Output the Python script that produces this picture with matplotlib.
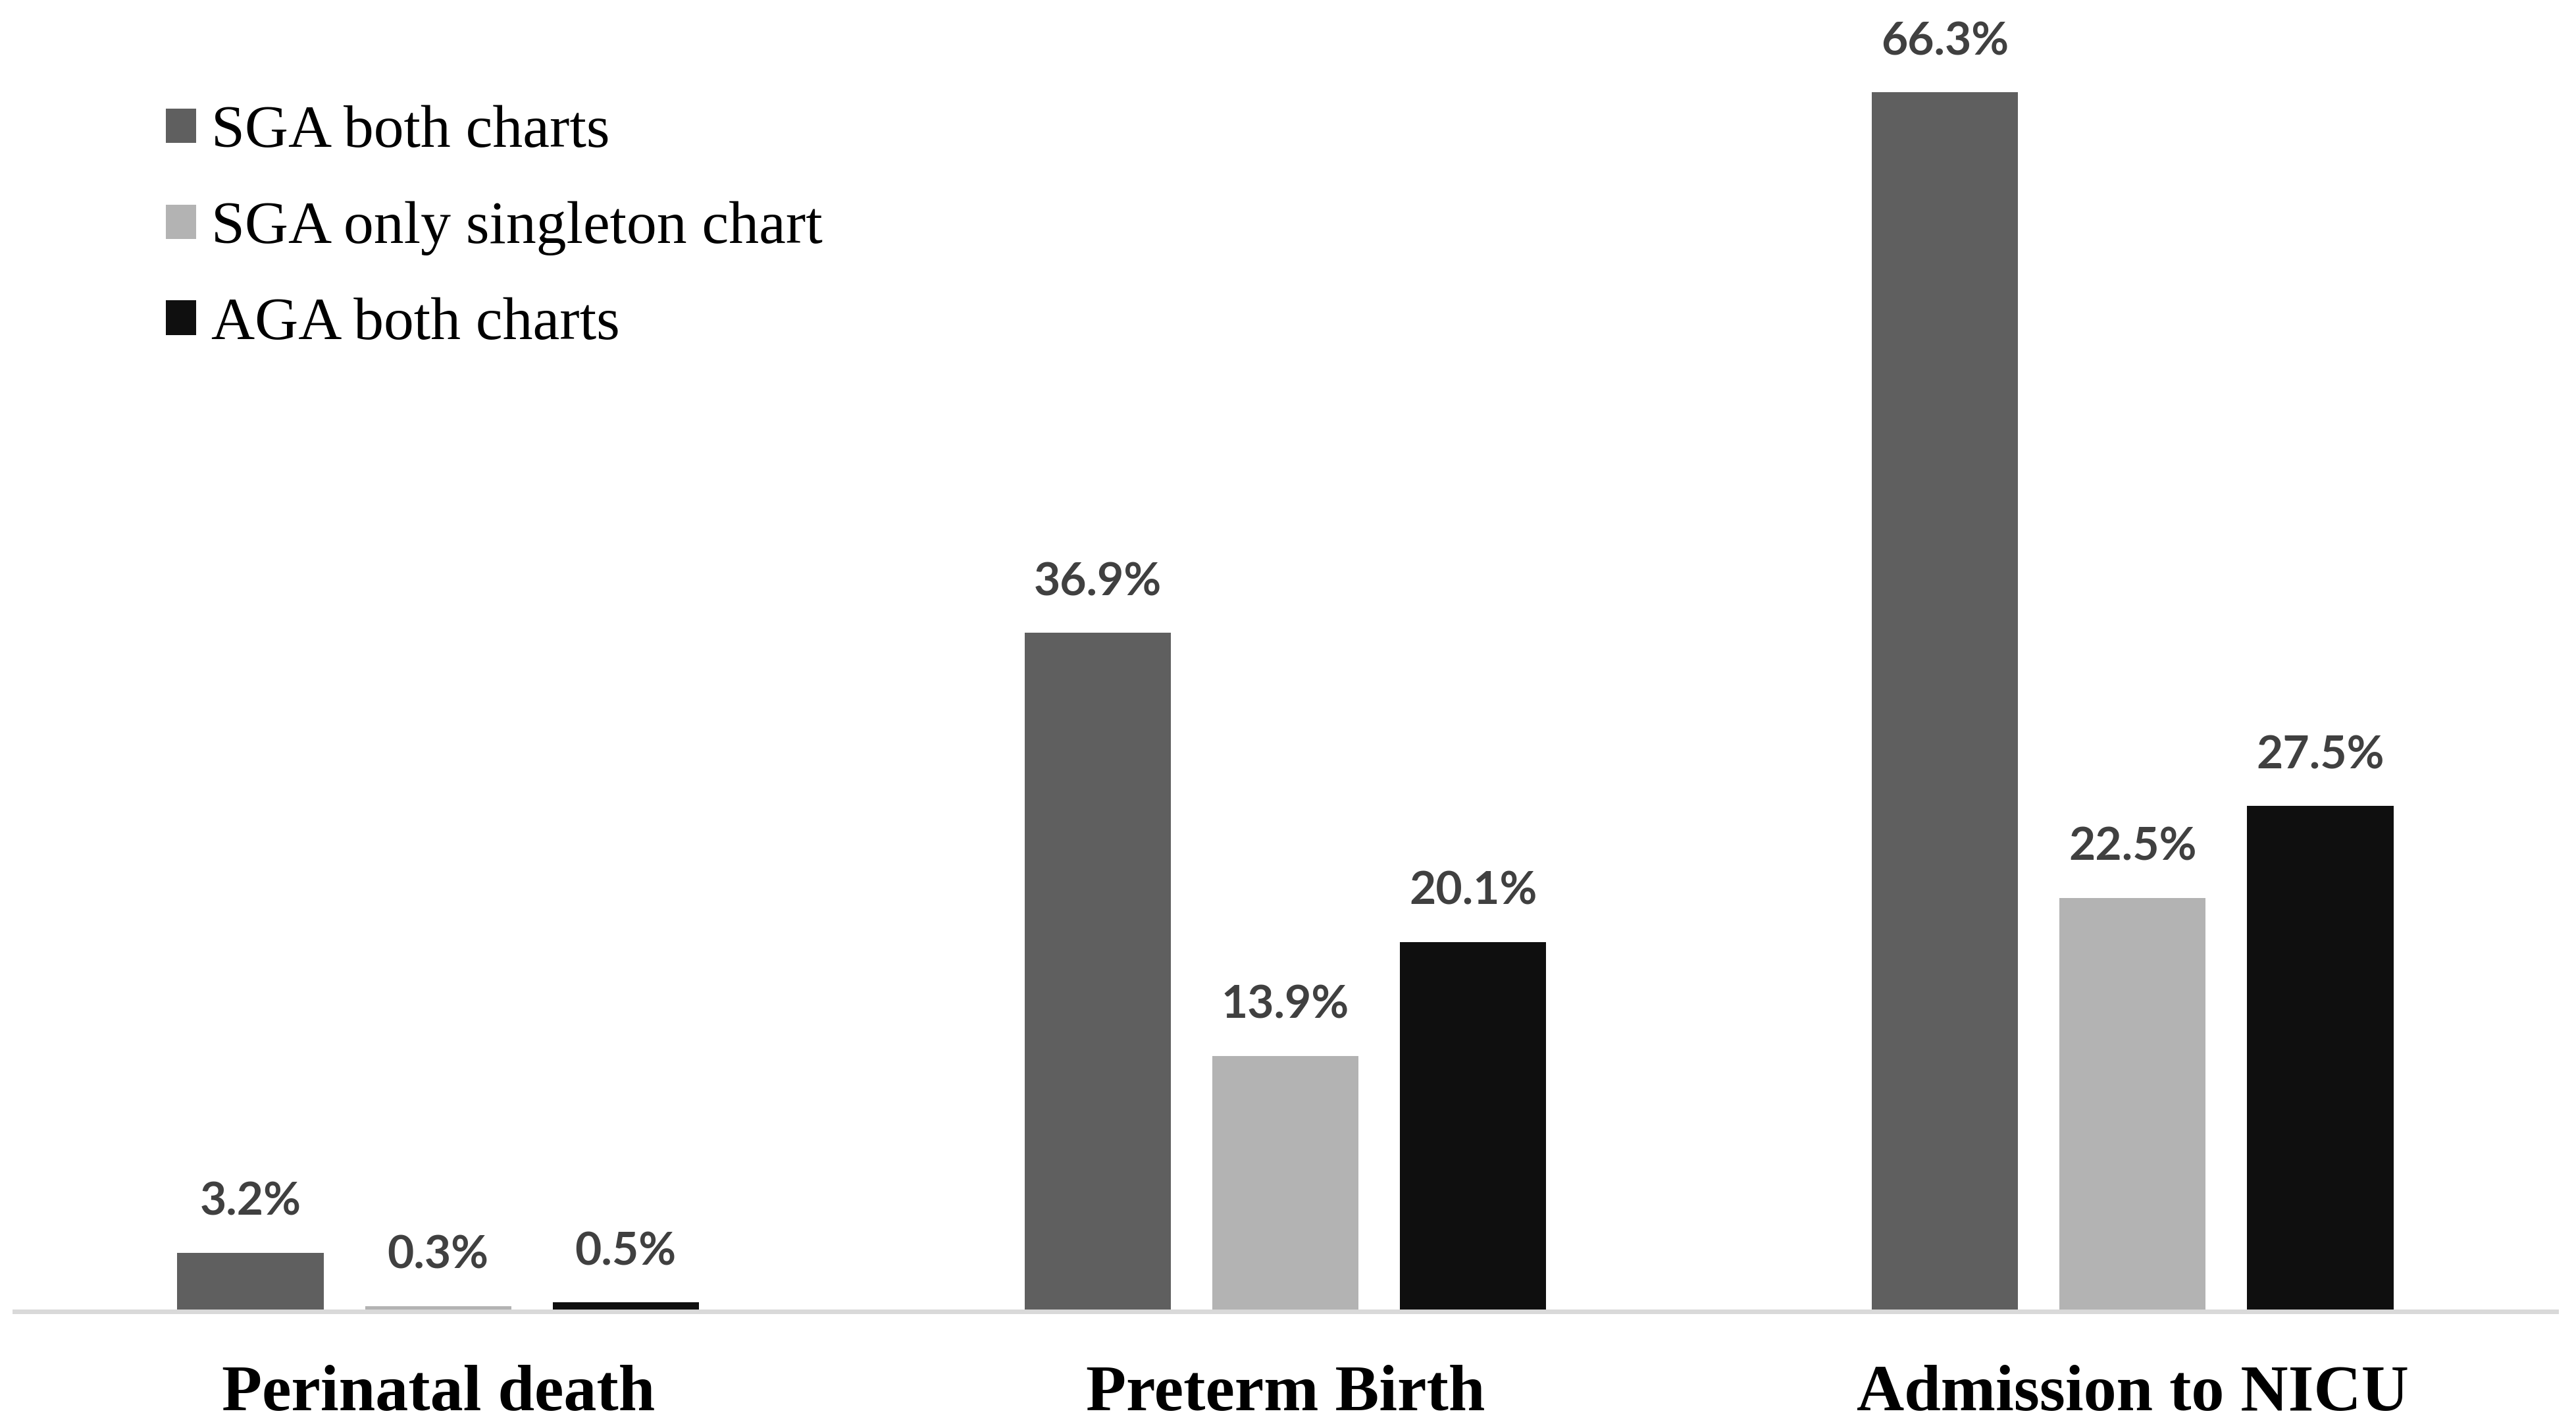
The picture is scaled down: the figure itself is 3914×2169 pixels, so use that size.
import matplotlib
matplotlib.use("Agg")
import matplotlib.pyplot as plt
from matplotlib.patches import Patch
import numpy as np

categories = ["Perinatal death", "Preterm Birth", "Admission to NICU"]
series_names = ["SGA both charts", "SGA only singleton chart", "AGA both charts"]
sga_both = [3.2, 36.9, 66.3]
sga_singleton = [0.3, 13.9, 22.5]
aga_both = [0.5, 20.1, 27.5]
colors = ["#5f5f5f", "#b3b3b3", "#0f0f0f"]

W, H = 3914, 2169
DPI = 100
fig = plt.figure(figsize=(W / DPI, H / DPI), dpi=DPI)
ax_left, ax_right = 22 / W, 3884 / W
ax_bottom = (H - 1992) / H
ax_top = 1 - 37 / H
ax = fig.add_axes([ax_left, ax_bottom, ax_right - ax_left, ax_top - ax_bottom])

x = np.arange(len(categories))
width = 0.1725
step = 0.2215
all_series = [sga_both, sga_singleton, aga_both]
for i, (vals, c) in enumerate(zip(all_series, colors)):
    pos = x + (i - 1) * step
    bars = ax.bar(pos, vals, width=width, color=c, zorder=2)
    for xb, v in zip(pos, vals):
        ax.annotate(f"{v:.1f}%", xy=(xb, v), xytext=(0, 41), textcoords="offset points",
                    ha="center", va="baseline", fontsize=50, fontweight="bold",
                    color="#404040", family=["Lato", "DejaVu Sans"])

ax.set_xlim(-0.5, 2.5)
ax.set_ylim(0, 70)
for s in ["top", "left", "right"]:
    ax.spines[s].set_visible(False)
ax.spines["bottom"].set_color("#d9d9d9")
ax.spines["bottom"].set_linewidth(5)
ax.spines["bottom"].set_zorder(3)
ax.set_yticks([])
ax.set_xticks(x)
ax.set_xticklabels(categories, fontsize=72, fontweight="bold", family=["Liberation Serif"])
ax.tick_params(axis="x", length=0, pad=58)

handles = [Patch(facecolor=c, edgecolor="none") for c in colors]
fig.legend(handles, series_names, loc="upper left", bbox_to_anchor=(252 / W, 1 - 160 / H),
           bbox_transform=fig.transFigure, frameon=False, borderpad=0, borderaxespad=0,
           handlelength=0.5, handleheight=0.5, handletextpad=0.25, labelspacing=0.69,
           prop={"family": "Liberation Serif", "size": 66})

fig.savefig("out.png", dpi=DPI)
